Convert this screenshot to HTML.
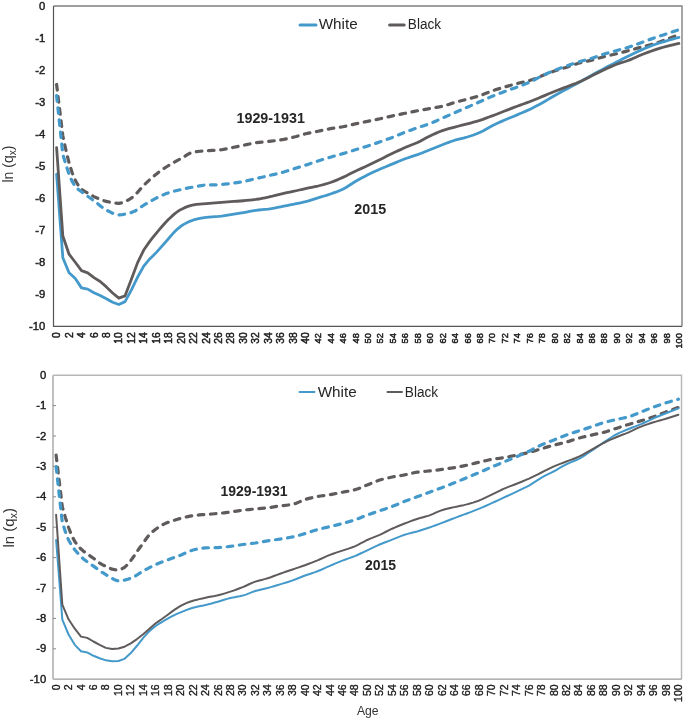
<!DOCTYPE html>
<html><head><meta charset="utf-8"><title>ln(qx) by age</title>
<style>html,body{margin:0;padding:0;background:#fff;}svg{display:block;}</style>
</head><body>
<svg width="685" height="720" viewBox="0 0 685 720">
<rect width="685" height="720" fill="#fff"/>
<g fill="none" stroke-linecap="butt">
<path d="M53.5 6.0 H682.0 V326.3" stroke="#808080" stroke-width="1.4"/>
<path d="M53.5 6.0 V326.3 H682.0" stroke="#555" stroke-width="1.2"/>
</g>
<g fill="none">
<path d="M53.0 375.2 H681.5 V679.2" stroke="#b5b5b5" stroke-width="1.4"/>
<path d="M681.5 679.2 H53.0" stroke="#9a9a9a" stroke-width="1.3"/>
<path d="M53.0 375.2 V679.2" stroke="#c0c0c0" stroke-width="2"/>
<path d="M53.0 405.60 h3 M53.0 436.00 h3 M53.0 466.40 h3 M53.0 496.80 h3 M53.0 527.20 h3 M53.0 557.60 h3 M53.0 588.00 h3 M53.0 618.40 h3 M53.0 648.80 h3 " stroke="#8a8a8a" stroke-width="1"/>
</g>
<g fill="none" stroke-linecap="round" stroke-linejoin="round">
<path d="M56.61 84.47 L62.83 136.04 L65.95 150.23 L69.06 162.95 L72.17 172.75 L75.28 180.24 L78.39 185.53 L81.50 189.21 L84.61 191.35 L87.73 193.06 L90.84 194.91 L93.95 196.58 L97.06 198.02 L100.17 199.37 L103.28 200.52 L106.39 201.38 L109.50 202.07 L112.62 202.69 L115.73 203.13 L118.84 203.30 L121.95 202.85 L125.06 201.66 L128.17 200.01 L131.28 198.18 L134.40 195.71 L137.51 192.35 L140.62 188.71 L143.73 185.37 L146.84 182.39 L149.95 179.49 L153.06 176.72 L156.18 174.16 L159.29 171.80 L162.40 169.58 L165.51 167.50 L168.62 165.51 L171.73 163.63 L174.84 161.85 L177.96 160.14 L181.07 158.46 L184.18 156.62 L187.29 154.69 L190.40 153.04 L193.51 152.06 L196.62 151.60 L199.74 151.26 L202.85 151.00 L205.96 150.78 L209.07 150.60 L212.18 150.47 L215.29 150.34 L218.40 150.14 L221.51 149.76 L224.63 149.19 L227.74 148.53 L230.85 147.89 L233.96 147.28 L237.07 146.63 L240.18 145.98 L243.29 145.33 L246.41 144.65 L249.52 143.94 L252.63 143.29 L255.74 142.77 L258.85 142.39 L261.96 142.09 L265.07 141.81 L268.19 141.49 L271.30 141.13 L274.41 140.75 L277.52 140.35 L280.63 139.89 L283.74 139.35 L286.85 138.73 L289.97 138.05 L293.08 137.32 L296.19 136.49 L299.30 135.56 L302.41 134.63 L305.52 133.80 L308.63 133.10 L311.75 132.47 L314.86 131.86 L317.97 131.24 L321.08 130.58 L324.19 129.91 L327.30 129.26 L330.41 128.67 L333.52 128.17 L336.64 127.73 L339.75 127.27 L342.86 126.75 L345.97 126.11 L349.08 125.36 L352.19 124.59 L355.30 123.87 L358.42 123.21 L361.53 122.57 L364.64 121.94 L367.75 121.31 L370.86 120.67 L373.97 120.05 L377.08 119.41 L380.20 118.75 L383.31 118.04 L386.42 117.30 L389.53 116.57 L392.64 115.86 L395.75 115.20 L398.86 114.56 L401.98 113.93 L405.09 113.30 L408.20 112.65 L411.31 112.00 L414.42 111.35 L417.53 110.74 L420.64 110.16 L423.75 109.60 L426.87 109.05 L429.98 108.50 L433.09 107.96 L436.20 107.45 L439.31 106.90 L442.42 106.25 L445.53 105.42 L448.65 104.41 L451.76 103.37 L454.87 102.41 L457.98 101.58 L461.09 100.79 L464.20 100.02 L467.31 99.21 L470.43 98.38 L473.54 97.53 L476.65 96.65 L479.76 95.68 L482.87 94.56 L485.98 93.31 L489.09 92.04 L492.21 90.88 L495.32 89.85 L498.43 88.88 L501.54 87.95 L504.65 87.04 L507.76 86.12 L510.87 85.21 L513.99 84.34 L517.10 83.51 L520.21 82.79 L523.32 82.13 L526.43 81.44 L529.54 80.63 L532.65 79.60 L535.76 78.38 L538.88 77.08 L541.99 75.83 L545.10 74.60 L548.21 73.36 L551.32 72.15 L554.43 71.02 L557.54 70.01 L560.66 69.06 L563.77 68.14 L566.88 67.18 L569.99 66.12 L573.10 65.02 L576.21 63.96 L579.32 63.01 L582.44 62.23 L585.55 61.54 L588.66 60.87 L591.77 60.13 L594.88 59.28 L597.99 58.37 L601.10 57.46 L604.22 56.61 L607.33 55.85 L610.44 55.15 L613.55 54.45 L616.66 53.72 L619.77 52.95 L622.88 52.16 L626.00 51.35 L629.11 50.52 L632.22 49.66 L635.33 48.76 L638.44 47.86 L641.55 47.00 L644.66 46.20 L647.77 45.44 L650.89 44.66 L654.00 43.80 L657.11 42.79 L660.22 41.67 L663.33 40.49 L666.44 39.31 L669.55 38.13 L672.67 36.93 L675.78 35.72 L678.89 34.51" stroke="#5f5b5a" stroke-width="3.2" stroke-dasharray="5.6 6.6" />
<path d="M56.61 95.68 L62.83 154.30 L65.95 164.79 L69.06 174.16 L72.17 181.41 L75.28 186.65 L78.39 189.52 L81.50 191.77 L84.61 194.05 L87.73 196.26 L90.84 198.49 L93.95 200.74 L97.06 203.18 L100.17 205.73 L103.28 208.12 L106.39 210.03 L109.50 211.67 L112.62 213.23 L115.73 214.38 L118.84 214.84 L121.95 214.65 L125.06 214.14 L128.17 213.43 L131.28 212.59 L134.40 211.30 L137.51 209.38 L140.62 207.23 L143.73 205.23 L146.84 203.40 L149.95 201.57 L153.06 199.81 L156.18 198.18 L159.29 196.65 L162.40 195.19 L165.51 193.86 L168.62 192.73 L171.73 191.80 L174.84 190.99 L177.96 190.24 L181.07 189.53 L184.18 188.83 L187.29 188.17 L190.40 187.55 L193.51 186.97 L196.62 186.39 L199.74 185.80 L202.85 185.32 L205.96 185.05 L209.07 184.94 L212.18 184.88 L215.29 184.82 L218.40 184.73 L221.51 184.53 L224.63 184.21 L227.74 183.84 L230.85 183.45 L233.96 183.04 L237.07 182.58 L240.18 182.08 L243.29 181.52 L246.41 180.88 L249.52 180.16 L252.63 179.39 L255.74 178.64 L258.85 177.92 L261.96 177.20 L265.07 176.48 L268.19 175.76 L271.30 175.06 L274.41 174.37 L277.52 173.65 L280.63 172.88 L283.74 171.99 L286.85 171.02 L289.97 170.02 L293.08 169.03 L296.19 168.08 L299.30 167.13 L302.41 166.17 L305.52 165.19 L308.63 164.16 L311.75 163.11 L314.86 162.05 L317.97 161.03 L321.08 160.03 L324.19 159.06 L327.30 158.11 L330.41 157.18 L333.52 156.29 L336.64 155.42 L339.75 154.55 L342.86 153.66 L345.97 152.72 L349.08 151.76 L352.19 150.78 L355.30 149.81 L358.42 148.86 L361.53 147.91 L364.64 146.95 L367.75 145.97 L370.86 144.96 L373.97 143.93 L377.08 142.88 L380.20 141.81 L383.31 140.72 L386.42 139.62 L389.53 138.49 L392.64 137.32 L395.75 136.07 L398.86 134.76 L401.98 133.45 L405.09 132.20 L408.20 131.03 L411.31 129.90 L414.42 128.80 L417.53 127.71 L420.64 126.68 L423.75 125.68 L426.87 124.66 L429.98 123.55 L433.09 122.29 L436.20 120.92 L439.31 119.50 L442.42 118.10 L445.53 116.74 L448.65 115.38 L451.76 114.02 L454.87 112.66 L457.98 111.30 L461.09 109.94 L464.20 108.58 L467.31 107.21 L470.43 105.85 L473.54 104.49 L476.65 103.13 L479.76 101.77 L482.87 100.39 L485.98 99.00 L489.09 97.64 L492.21 96.32 L495.32 95.07 L498.43 93.86 L501.54 92.68 L504.65 91.52 L507.76 90.38 L510.87 89.28 L513.99 88.17 L517.10 87.04 L520.21 85.89 L523.32 84.74 L526.43 83.54 L529.54 82.23 L532.65 80.73 L535.76 79.08 L538.88 77.40 L541.99 75.83 L545.10 74.38 L548.21 72.98 L551.32 71.65 L554.43 70.38 L557.54 69.19 L560.66 68.06 L563.77 66.97 L566.88 65.90 L569.99 64.82 L573.10 63.75 L576.21 62.72 L579.32 61.73 L582.44 60.82 L585.55 59.97 L588.66 59.12 L591.77 58.21 L594.88 57.20 L597.99 56.13 L601.10 55.05 L604.22 54.05 L607.33 53.12 L610.44 52.25 L613.55 51.39 L616.66 50.52 L619.77 49.66 L622.88 48.81 L626.00 47.94 L629.11 47.00 L632.22 45.95 L635.33 44.82 L638.44 43.66 L641.55 42.51 L644.66 41.39 L647.77 40.25 L650.89 39.13 L654.00 38.03 L657.11 36.97 L660.22 35.93 L663.33 34.90 L666.44 33.87 L669.55 32.83 L672.67 31.78 L675.78 30.74 L678.89 29.70" stroke="#4499cb" stroke-width="3.2" stroke-dasharray="5.6 6.6" />
<path d="M56.61 174.16 L62.83 257.76 L69.06 272.81 L75.28 278.58 L81.50 287.86 L87.73 289.15 L93.95 292.67 L100.17 295.55 L106.39 298.75 L112.62 302.28 L118.84 304.52 L125.06 301.64 L131.28 290.11 L137.51 277.29 L143.73 266.08 L149.95 258.72 L153.06 255.73 L156.18 252.63 L159.29 249.17 L162.40 245.58 L165.51 242.06 L168.62 238.54 L171.73 234.90 L174.84 231.49 L177.96 228.54 L181.07 226.05 L184.18 224.12 L187.29 222.52 L190.40 221.09 L193.51 219.96 L196.62 219.13 L199.74 218.41 L202.85 217.83 L205.96 217.40 L209.07 217.11 L212.18 216.90 L215.29 216.70 L218.40 216.44 L221.51 216.05 L224.63 215.56 L227.74 215.03 L230.85 214.52 L233.96 214.04 L237.07 213.57 L240.18 213.09 L243.29 212.59 L246.41 212.03 L249.52 211.42 L252.63 210.83 L255.74 210.35 L258.85 210.00 L261.96 209.71 L265.07 209.42 L268.19 209.07 L271.30 208.60 L274.41 208.04 L277.52 207.44 L280.63 206.83 L283.74 206.21 L286.85 205.57 L289.97 204.91 L293.08 204.27 L296.19 203.65 L299.30 203.05 L302.41 202.42 L305.52 201.70 L308.63 200.85 L311.75 199.88 L314.86 198.86 L317.97 197.86 L321.08 196.92 L324.19 195.99 L327.30 195.04 L330.41 194.02 L333.52 192.94 L336.64 191.82 L339.75 190.59 L342.86 189.21 L345.97 187.52 L349.08 185.53 L352.19 183.46 L355.30 181.52 L358.42 179.76 L361.53 178.04 L364.64 176.39 L367.75 174.80 L370.86 173.28 L373.97 171.82 L377.08 170.41 L380.20 169.03 L383.31 167.71 L386.42 166.43 L389.53 165.17 L392.64 163.91 L395.75 162.60 L398.86 161.28 L401.98 159.99 L405.09 158.78 L408.20 157.70 L411.31 156.68 L414.42 155.68 L417.53 154.62 L420.64 153.47 L423.75 152.28 L426.87 151.05 L429.98 149.81 L433.09 148.54 L436.20 147.23 L439.31 145.93 L442.42 144.69 L445.53 143.49 L448.65 142.32 L451.76 141.21 L454.87 140.21 L457.98 139.35 L461.09 138.60 L464.20 137.85 L467.31 137.00 L470.43 136.03 L473.54 134.97 L476.65 133.80 L479.76 132.52 L482.87 131.00 L485.98 129.26 L489.09 127.46 L492.21 125.79 L495.32 124.27 L498.43 122.81 L501.54 121.40 L504.65 120.03 L507.76 118.71 L510.87 117.45 L513.99 116.19 L517.10 114.90 L520.21 113.58 L523.32 112.26 L526.43 110.89 L529.54 109.46 L532.65 107.95 L535.76 106.37 L538.88 104.74 L541.99 103.05 L545.10 101.27 L548.21 99.39 L551.32 97.50 L554.43 95.68 L557.54 93.96 L560.66 92.28 L563.77 90.62 L566.88 88.96 L569.99 87.28 L573.10 85.61 L576.21 83.93 L579.32 82.23 L582.44 80.49 L585.55 78.71 L588.66 76.93 L591.77 75.18 L594.88 73.47 L597.99 71.78 L601.10 70.11 L604.22 68.46 L607.33 66.84 L610.44 65.24 L613.55 63.65 L616.66 62.05 L619.77 60.44 L622.88 58.81 L626.00 57.20 L629.11 55.65 L632.22 54.15 L635.33 52.68 L638.44 51.26 L641.55 49.88 L644.66 48.52 L647.77 47.19 L650.89 45.92 L654.00 44.76 L657.11 43.71 L660.22 42.74 L663.33 41.82 L666.44 40.91 L669.55 40.01 L672.67 39.13 L675.78 38.26 L678.89 37.39" stroke="#4499cb" stroke-width="2.8" />
<path d="M56.61 147.57 L62.83 235.98 L69.06 254.23 L75.28 262.24 L81.50 270.57 L87.73 272.81 L93.95 277.61 L100.17 281.46 L106.39 286.90 L112.62 292.99 L118.84 298.11 L125.06 295.87 L131.28 279.54 L137.51 262.88 L143.73 250.07 L149.95 241.10 L153.06 237.22 L156.18 233.41 L159.29 229.68 L162.40 225.98 L165.51 222.47 L168.62 219.32 L171.73 216.42 L174.84 213.67 L177.96 211.26 L181.07 209.39 L184.18 207.91 L187.29 206.63 L190.40 205.60 L193.51 204.91 L196.62 204.48 L199.74 204.15 L202.85 203.89 L205.96 203.63 L209.07 203.37 L212.18 203.13 L215.29 202.90 L218.40 202.66 L221.51 202.42 L224.63 202.18 L227.74 201.94 L230.85 201.70 L233.96 201.47 L237.07 201.24 L240.18 201.00 L243.29 200.74 L246.41 200.46 L249.52 200.17 L252.63 199.84 L255.74 199.46 L258.85 199.01 L261.96 198.47 L265.07 197.86 L268.19 197.22 L271.30 196.48 L274.41 195.64 L277.52 194.79 L280.63 194.02 L283.74 193.34 L286.85 192.72 L289.97 192.10 L293.08 191.45 L296.19 190.75 L299.30 190.01 L302.41 189.28 L305.52 188.57 L308.63 187.93 L311.75 187.32 L314.86 186.70 L317.97 186.01 L321.08 185.24 L324.19 184.40 L327.30 183.48 L330.41 182.49 L333.52 181.36 L336.64 180.10 L339.75 178.75 L342.86 177.36 L345.97 175.90 L349.08 174.36 L352.19 172.80 L355.30 171.27 L358.42 169.82 L361.53 168.39 L364.64 166.97 L367.75 165.51 L370.86 164.01 L373.97 162.49 L377.08 160.95 L380.20 159.42 L383.31 157.89 L386.42 156.36 L389.53 154.84 L392.64 153.34 L395.75 151.86 L398.86 150.39 L401.98 148.96 L405.09 147.57 L408.20 146.28 L411.31 145.04 L414.42 143.79 L417.53 142.45 L420.64 140.92 L423.75 139.27 L426.87 137.60 L429.98 136.04 L433.09 134.56 L436.20 133.12 L439.31 131.77 L442.42 130.60 L445.53 129.60 L448.65 128.72 L451.76 127.90 L454.87 127.07 L457.98 126.26 L461.09 125.47 L464.20 124.69 L467.31 123.87 L470.43 123.03 L473.54 122.18 L476.65 121.30 L479.76 120.35 L482.87 119.31 L485.98 118.19 L489.09 117.03 L492.21 115.86 L495.32 114.69 L498.43 113.48 L501.54 112.27 L504.65 111.06 L507.76 109.85 L510.87 108.64 L513.99 107.43 L517.10 106.25 L520.21 105.13 L523.32 104.03 L526.43 102.93 L529.54 101.77 L532.65 100.54 L535.76 99.25 L538.88 97.94 L541.99 96.64 L545.10 95.36 L548.21 94.06 L551.32 92.78 L554.43 91.52 L557.54 90.30 L560.66 89.10 L563.77 87.91 L566.88 86.72 L569.99 85.54 L573.10 84.38 L576.21 83.19 L579.32 81.91 L582.44 80.49 L585.55 78.96 L588.66 77.38 L591.77 75.83 L594.88 74.29 L597.99 72.74 L601.10 71.21 L604.22 69.74 L607.33 68.30 L610.44 66.89 L613.55 65.54 L616.66 64.29 L619.77 63.20 L622.88 62.21 L626.00 61.22 L629.11 60.13 L632.22 58.85 L635.33 57.43 L638.44 56.01 L641.55 54.69 L644.66 53.49 L647.77 52.35 L650.89 51.25 L654.00 50.20 L657.11 49.17 L660.22 48.17 L663.33 47.23 L666.44 46.36 L669.55 45.58 L672.67 44.86 L675.78 44.18 L678.89 43.48" stroke="#5f5b5a" stroke-width="2.8" />
<path d="M56.11 455.15 L62.33 506.83 L65.45 517.67 L68.56 527.50 L71.67 535.35 L74.78 541.49 L77.89 545.78 L81.00 549.09 L84.11 551.69 L87.23 553.95 L90.34 556.08 L93.45 558.21 L96.56 560.71 L99.67 563.07 L102.78 564.86 L105.89 566.42 L109.00 567.99 L112.12 569.15 L115.23 569.78 L118.34 570.06 L121.45 569.18 L124.56 567.33 L127.67 564.46 L130.78 560.64 L133.90 556.22 L137.01 551.52 L140.12 547.23 L143.23 543.01 L146.34 538.49 L149.45 534.50 L152.56 531.69 L155.68 529.33 L158.79 527.03 L161.90 525.07 L165.01 523.59 L168.12 522.34 L171.23 521.22 L174.34 520.21 L177.46 519.25 L180.57 518.38 L183.68 517.59 L186.79 516.83 L189.90 516.16 L193.01 515.65 L196.12 515.27 L199.24 514.96 L202.35 514.69 L205.46 514.43 L208.57 514.20 L211.68 513.99 L214.79 513.77 L217.90 513.52 L221.01 513.20 L224.13 512.82 L227.24 512.42 L230.35 512.00 L233.46 511.55 L236.57 511.06 L239.68 510.59 L242.79 510.18 L245.91 509.84 L249.02 509.54 L252.13 509.25 L255.24 508.96 L258.35 508.67 L261.46 508.38 L264.57 508.08 L267.69 507.74 L270.80 507.33 L273.91 506.86 L277.02 506.37 L280.13 505.92 L283.24 505.56 L286.35 505.24 L289.47 504.89 L292.58 504.40 L295.69 503.49 L298.80 502.15 L301.91 500.71 L305.02 499.54 L308.13 498.64 L311.25 497.83 L314.36 497.12 L317.47 496.50 L320.58 495.99 L323.69 495.56 L326.80 495.14 L329.91 494.67 L333.02 494.11 L336.14 493.50 L339.25 492.86 L342.36 492.24 L345.47 491.67 L348.58 491.13 L351.69 490.53 L354.80 489.81 L357.92 488.82 L361.03 487.58 L364.14 486.24 L367.25 484.94 L370.36 483.68 L373.47 482.37 L376.58 481.14 L379.70 480.08 L382.81 479.20 L385.92 478.41 L389.03 477.69 L392.14 477.04 L395.25 476.47 L398.36 475.96 L401.48 475.46 L404.59 474.91 L407.70 474.23 L410.81 473.46 L413.92 472.73 L417.03 472.18 L420.14 471.81 L423.25 471.53 L426.37 471.26 L429.48 470.96 L432.59 470.61 L435.70 470.24 L438.81 469.85 L441.92 469.44 L445.03 469.02 L448.15 468.58 L451.26 468.12 L454.37 467.62 L457.48 467.07 L460.59 466.48 L463.70 465.85 L466.81 465.18 L469.93 464.46 L473.04 463.69 L476.15 462.90 L479.26 462.14 L482.37 461.41 L485.48 460.69 L488.59 460.01 L491.71 459.41 L494.82 458.91 L497.93 458.48 L501.04 458.06 L504.15 457.58 L507.26 457.03 L510.37 456.43 L513.49 455.80 L516.60 455.15 L519.71 454.51 L522.82 453.85 L525.93 453.16 L529.04 452.42 L532.15 451.58 L535.26 450.66 L538.38 449.70 L541.49 448.77 L544.60 447.84 L547.71 446.90 L550.82 445.99 L553.93 445.12 L557.04 444.34 L560.16 443.62 L563.27 442.88 L566.38 442.08 L569.49 441.14 L572.60 440.10 L575.71 439.07 L578.82 438.13 L581.94 437.30 L585.05 436.54 L588.16 435.81 L591.27 435.09 L594.38 434.41 L597.49 433.76 L600.60 433.10 L603.72 432.35 L606.83 431.47 L609.94 430.47 L613.05 429.42 L616.16 428.40 L619.27 427.40 L622.38 426.40 L625.50 425.41 L628.61 424.45 L631.72 423.52 L634.83 422.62 L637.94 421.73 L641.05 420.80 L644.16 419.85 L647.27 418.89 L650.39 417.90 L653.50 416.85 L656.61 415.70 L659.72 414.46 L662.83 413.20 L665.94 411.98 L669.05 410.82 L672.17 409.69 L675.28 408.56 L678.39 407.42" stroke="#5f5b5a" stroke-width="3.2" stroke-dasharray="5.6 6.6" />
<path d="M56.11 466.70 L62.33 522.64 L65.45 531.91 L68.56 539.97 L71.67 545.37 L74.78 549.70 L77.89 553.47 L81.00 556.69 L84.11 559.43 L87.23 561.86 L90.34 564.02 L93.45 566.11 L96.56 568.41 L99.67 570.67 L102.78 572.70 L105.89 574.62 L109.00 576.53 L112.12 578.27 L115.23 580.03 L118.34 581.01 L121.45 580.77 L124.56 580.14 L127.67 579.26 L130.78 578.27 L133.90 576.89 L137.01 574.98 L140.12 572.89 L143.23 570.98 L146.34 569.28 L149.45 567.62 L152.56 566.05 L155.68 564.59 L158.79 563.28 L161.90 562.06 L165.01 560.89 L168.12 559.73 L171.23 558.58 L174.34 557.47 L177.46 556.34 L180.57 555.17 L183.68 553.82 L186.79 552.36 L189.90 551.00 L193.01 550.00 L196.12 549.27 L199.24 548.63 L202.35 548.14 L205.46 547.87 L208.57 547.77 L211.68 547.71 L214.79 547.66 L217.90 547.57 L221.01 547.38 L224.13 547.08 L227.24 546.72 L230.35 546.35 L233.46 545.94 L236.57 545.46 L239.68 544.98 L242.79 544.53 L245.91 544.14 L249.02 543.78 L252.13 543.42 L255.24 543.01 L258.35 542.52 L261.46 541.97 L264.57 541.41 L267.69 540.88 L270.80 540.41 L273.91 539.97 L277.02 539.53 L280.13 539.06 L283.24 538.57 L286.35 538.07 L289.47 537.53 L292.58 536.93 L295.69 536.21 L298.80 535.38 L301.91 534.49 L305.02 533.58 L308.13 532.62 L311.25 531.58 L314.36 530.56 L317.47 529.63 L320.58 528.82 L323.69 528.06 L326.80 527.33 L329.91 526.59 L333.02 525.84 L336.14 525.11 L339.25 524.35 L342.36 523.55 L345.47 522.71 L348.58 521.83 L351.69 520.90 L354.80 519.90 L357.92 518.77 L361.03 517.52 L364.14 516.24 L367.25 515.04 L370.36 513.94 L373.47 512.88 L376.58 511.83 L379.70 510.78 L382.81 509.74 L385.92 508.71 L389.03 507.65 L392.14 506.53 L395.25 505.29 L398.36 503.97 L401.48 502.63 L404.59 501.36 L407.70 500.18 L410.81 499.04 L413.92 497.93 L417.03 496.80 L420.14 495.66 L423.25 494.52 L426.37 493.38 L429.48 492.24 L432.59 491.11 L435.70 489.98 L438.81 488.84 L441.92 487.68 L445.03 486.49 L448.15 485.29 L451.26 484.06 L454.37 482.82 L457.48 481.55 L460.59 480.25 L463.70 478.95 L466.81 477.65 L469.93 476.36 L473.04 475.08 L476.15 473.79 L479.26 472.48 L482.37 471.13 L485.48 469.74 L488.59 468.36 L491.71 467.01 L494.82 465.70 L497.93 464.41 L501.04 463.13 L504.15 461.84 L507.26 460.55 L510.37 459.27 L513.49 457.98 L516.60 456.67 L519.71 455.35 L522.82 454.01 L525.93 452.63 L529.04 451.20 L532.15 449.63 L535.26 447.96 L538.38 446.31 L541.49 444.82 L544.60 443.51 L547.71 442.30 L550.82 441.14 L553.93 439.95 L557.04 438.72 L560.16 437.48 L563.27 436.26 L566.38 435.09 L569.49 433.98 L572.60 432.90 L575.71 431.86 L578.82 430.83 L581.94 429.83 L585.05 428.86 L588.16 427.88 L591.27 426.88 L594.38 425.80 L597.49 424.68 L600.60 423.60 L603.72 422.62 L606.83 421.79 L609.94 421.02 L613.05 420.30 L616.16 419.58 L619.27 418.92 L622.38 418.29 L625.50 417.63 L628.61 416.85 L631.72 415.82 L634.83 414.59 L637.94 413.26 L641.05 411.98 L644.16 410.75 L647.27 409.51 L650.39 408.29 L653.50 407.12 L656.61 406.00 L659.72 404.92 L662.83 403.87 L665.94 402.86 L669.05 401.91 L672.17 401.00 L675.28 400.11 L678.39 399.22" stroke="#4499cb" stroke-width="3.2" stroke-dasharray="5.6 6.6" />
<path d="M56.11 539.97 L62.33 619.62 L68.56 634.51 L74.78 644.85 L81.00 651.23 L87.23 652.45 L93.45 655.79 L99.67 658.22 L105.89 660.35 L112.12 661.26 L118.34 660.96 L124.56 658.83 L130.78 653.06 L137.01 645.76 L143.23 637.86 L149.45 631.17 L152.56 628.50 L155.68 626.00 L158.79 623.94 L161.90 622.05 L165.01 620.19 L168.12 618.40 L171.23 616.67 L174.34 615.06 L177.46 613.63 L180.57 612.32 L183.68 611.07 L186.79 609.89 L189.90 608.75 L193.01 607.76 L196.12 606.99 L199.24 606.34 L202.35 605.71 L205.46 605.02 L208.57 604.24 L211.68 603.41 L214.79 602.55 L217.90 601.68 L221.01 600.76 L224.13 599.78 L227.24 598.85 L230.35 598.03 L233.46 597.39 L236.57 596.85 L239.68 596.29 L242.79 595.60 L245.91 594.61 L249.02 593.38 L252.13 592.12 L255.24 591.04 L258.35 590.21 L261.46 589.48 L264.57 588.77 L267.69 588.00 L270.80 587.14 L273.91 586.24 L277.02 585.30 L280.13 584.35 L283.24 583.41 L286.35 582.45 L289.47 581.45 L292.58 580.40 L295.69 579.24 L298.80 577.99 L301.91 576.73 L305.02 575.54 L308.13 574.46 L311.25 573.44 L314.36 572.41 L317.47 571.28 L320.58 570.00 L323.69 568.61 L326.80 567.19 L329.91 565.81 L333.02 564.48 L336.14 563.17 L339.25 561.88 L342.36 560.64 L345.47 559.49 L348.58 558.39 L351.69 557.28 L354.80 556.08 L357.92 554.73 L361.03 553.28 L364.14 551.78 L367.25 550.30 L370.36 548.84 L373.47 547.35 L376.58 545.90 L379.70 544.53 L382.81 543.25 L385.92 542.04 L389.03 540.86 L392.14 539.66 L395.25 538.41 L398.36 537.12 L401.48 535.89 L404.59 534.80 L407.70 533.89 L410.81 533.09 L413.92 532.30 L417.03 531.46 L420.14 530.53 L423.25 529.56 L426.37 528.55 L429.48 527.50 L432.59 526.42 L435.70 525.28 L438.81 524.12 L441.92 522.94 L445.03 521.74 L448.15 520.51 L451.26 519.28 L454.37 518.08 L457.48 516.93 L460.59 515.80 L463.70 514.67 L466.81 513.52 L469.93 512.34 L473.04 511.14 L476.15 509.92 L479.26 508.66 L482.37 507.34 L485.48 505.98 L488.59 504.59 L491.71 503.18 L494.82 501.76 L497.93 500.32 L501.04 498.86 L504.15 497.41 L507.26 495.97 L510.37 494.54 L513.49 493.10 L516.60 491.63 L519.71 490.17 L522.82 488.71 L525.93 487.19 L529.04 485.55 L532.15 483.68 L535.26 481.62 L538.38 479.55 L541.49 477.65 L544.60 475.97 L547.71 474.41 L550.82 472.87 L553.93 471.26 L557.04 469.52 L560.16 467.70 L563.27 465.91 L566.38 464.27 L569.49 462.86 L572.60 461.58 L575.71 460.28 L578.82 458.80 L581.94 457.04 L585.05 455.06 L588.16 452.98 L591.27 450.90 L594.38 448.80 L597.49 446.64 L600.60 444.48 L603.72 442.38 L606.83 440.30 L609.94 438.22 L613.05 436.24 L616.16 434.48 L619.27 432.96 L622.38 431.58 L625.50 430.28 L628.61 429.01 L631.72 427.77 L634.83 426.59 L637.94 425.41 L641.05 424.14 L644.16 422.75 L647.27 421.28 L650.39 419.79 L653.50 418.37 L656.61 417.03 L659.72 415.73 L662.83 414.46 L665.94 413.20 L669.05 411.96 L672.17 410.75 L675.28 409.55 L678.39 408.34" stroke="#4499cb" stroke-width="2.0" />
<path d="M56.11 514.74 L62.33 604.72 L68.56 619.31 L74.78 628.74 L81.00 636.64 L87.23 637.86 L93.45 641.50 L99.67 644.85 L105.89 647.89 L112.12 649.10 L118.34 648.50 L124.56 646.67 L130.78 643.33 L137.01 639.07 L143.23 634.21 L149.45 628.74 L152.56 625.91 L155.68 623.26 L158.79 621.09 L161.90 619.01 L165.01 616.75 L168.12 614.45 L171.23 612.13 L174.34 609.89 L177.46 607.81 L180.57 605.94 L183.68 604.30 L186.79 602.90 L189.90 601.74 L193.01 600.77 L196.12 599.91 L199.24 599.13 L202.35 598.41 L205.46 597.73 L208.57 597.10 L211.68 596.54 L214.79 595.96 L217.90 595.30 L221.01 594.51 L224.13 593.61 L227.24 592.65 L230.35 591.65 L233.46 590.60 L236.57 589.48 L239.68 588.31 L242.79 587.09 L245.91 585.73 L249.02 584.25 L252.13 582.82 L255.24 581.62 L258.35 580.69 L261.46 579.91 L264.57 579.14 L267.69 578.27 L270.80 577.22 L273.91 576.06 L277.02 574.86 L280.13 573.71 L283.24 572.63 L286.35 571.57 L289.47 570.51 L292.58 569.46 L295.69 568.41 L298.80 567.36 L301.91 566.30 L305.02 565.20 L308.13 564.04 L311.25 562.84 L314.36 561.61 L317.47 560.34 L320.58 558.98 L323.69 557.55 L326.80 556.15 L329.91 554.86 L333.02 553.73 L336.14 552.67 L339.25 551.65 L342.36 550.61 L345.47 549.58 L348.58 548.59 L351.69 547.54 L354.80 546.35 L357.92 544.90 L361.03 543.24 L364.14 541.53 L367.25 539.97 L370.36 538.62 L373.47 537.37 L376.58 536.13 L379.70 534.80 L382.81 533.33 L385.92 531.76 L389.03 530.19 L392.14 528.72 L395.25 527.35 L398.36 526.04 L401.48 524.78 L404.59 523.55 L407.70 522.35 L410.81 521.17 L413.92 520.05 L417.03 518.99 L420.14 518.05 L423.25 517.20 L426.37 516.33 L429.48 515.34 L432.59 514.11 L435.70 512.70 L438.81 511.32 L441.92 510.18 L445.03 509.30 L448.15 508.54 L451.26 507.84 L454.37 507.14 L457.48 506.46 L460.59 505.81 L463.70 505.15 L466.81 504.40 L469.93 503.55 L473.04 502.61 L476.15 501.57 L479.26 500.45 L482.37 499.16 L485.48 497.71 L488.59 496.19 L491.71 494.67 L494.82 493.14 L497.93 491.57 L501.04 490.02 L504.15 488.59 L507.26 487.31 L510.37 486.11 L513.49 484.94 L516.60 483.73 L519.71 482.48 L522.82 481.22 L525.93 479.92 L529.04 478.56 L532.15 477.11 L535.26 475.58 L538.38 474.02 L541.49 472.48 L544.60 470.93 L547.71 469.36 L550.82 467.83 L553.93 466.40 L557.04 465.11 L560.16 463.90 L563.27 462.73 L566.38 461.54 L569.49 460.36 L572.60 459.20 L575.71 458.00 L578.82 456.67 L581.94 455.16 L585.05 453.48 L588.16 451.73 L591.27 449.98 L594.38 448.23 L597.49 446.42 L600.60 444.65 L603.72 442.99 L606.83 441.45 L609.94 439.97 L613.05 438.56 L616.16 437.22 L619.27 435.96 L622.38 434.78 L625.50 433.61 L628.61 432.35 L631.72 430.94 L634.83 429.42 L637.94 427.92 L641.05 426.58 L644.16 425.41 L647.27 424.33 L650.39 423.31 L653.50 422.32 L656.61 421.38 L659.72 420.48 L662.83 419.59 L665.94 418.67 L669.05 417.71 L672.17 416.72 L675.28 415.72 L678.39 414.72" stroke="#5f5b5a" stroke-width="2.0" />
</g>
<g font-family="'Liberation Sans', Arial, sans-serif" font-size="11.3" fill="#222" stroke="#222" stroke-width="0.45" text-anchor="end">
<text x="45.4" y="9.80">0</text>
<text x="45.4" y="41.83">-1</text>
<text x="45.4" y="73.86">-2</text>
<text x="45.4" y="105.89">-3</text>
<text x="45.4" y="137.92">-4</text>
<text x="45.4" y="169.95">-5</text>
<text x="45.4" y="201.98">-6</text>
<text x="45.4" y="234.01">-7</text>
<text x="45.4" y="266.04">-8</text>
<text x="45.4" y="298.07">-9</text>
<text x="45.4" y="330.10">-10</text>
</g>
<g font-family="'Liberation Sans', Arial, sans-serif" font-size="11.3" fill="#1a1a1a" stroke="#1a1a1a" stroke-width="0.4" text-anchor="end">
<text x="46.2" y="378.80">0</text>
<text x="46.2" y="409.20">-1</text>
<text x="46.2" y="439.60">-2</text>
<text x="46.2" y="470.00">-3</text>
<text x="46.2" y="500.40">-4</text>
<text x="46.2" y="530.80">-5</text>
<text x="46.2" y="561.20">-6</text>
<text x="46.2" y="591.60">-7</text>
<text x="46.2" y="622.00">-8</text>
<text x="46.2" y="652.40">-9</text>
<text x="46.2" y="682.80">-10</text>
</g>
<g font-family="'Liberation Sans', Arial, sans-serif" font-size="10.3" fill="#1e1e1e" stroke="#1e1e1e" stroke-width="0.5" text-anchor="end">
<text transform="translate(60.21 332.3) rotate(-90)">0</text>
<text transform="translate(72.66 332.3) rotate(-90)">2</text>
<text transform="translate(85.10 332.3) rotate(-90)">4</text>
<text transform="translate(97.55 332.3) rotate(-90)">6</text>
<text transform="translate(109.99 332.3) rotate(-90)">8</text>
<text transform="translate(122.44 332.3) rotate(-90)">10</text>
<text transform="translate(134.88 332.3) rotate(-90)">12</text>
<text transform="translate(147.33 332.3) rotate(-90)">14</text>
<text transform="translate(159.78 332.3) rotate(-90)">16</text>
<text transform="translate(172.22 332.3) rotate(-90)">18</text>
<text transform="translate(184.67 332.3) rotate(-90)">20</text>
<text transform="translate(197.11 332.3) rotate(-90)">22</text>
<text transform="translate(209.56 332.3) rotate(-90)">24</text>
<text transform="translate(222.00 332.3) rotate(-90)">26</text>
<text transform="translate(234.45 332.3) rotate(-90)">28</text>
<text transform="translate(246.89 332.3) rotate(-90)">30</text>
<text transform="translate(259.34 332.3) rotate(-90)">32</text>
<text transform="translate(271.79 332.3) rotate(-90)">34</text>
<text transform="translate(284.23 332.3) rotate(-90)">36</text>
<text transform="translate(296.68 332.3) rotate(-90)">38</text>
<text transform="translate(309.12 332.3) rotate(-90)">40</text>
<text font-size="9.2" transform="translate(321.17 333.2) rotate(-90)">42</text>
<text font-size="9.2" transform="translate(333.61 333.2) rotate(-90)">44</text>
<text font-size="9.2" transform="translate(346.06 333.2) rotate(-90)">46</text>
<text font-size="9.2" transform="translate(358.50 333.2) rotate(-90)">48</text>
<text font-size="9.2" transform="translate(370.95 333.2) rotate(-90)">50</text>
<text font-size="9.2" transform="translate(383.40 333.2) rotate(-90)">52</text>
<text font-size="9.2" transform="translate(395.84 333.2) rotate(-90)">54</text>
<text font-size="9.2" transform="translate(408.29 333.2) rotate(-90)">56</text>
<text font-size="9.2" transform="translate(420.73 333.2) rotate(-90)">58</text>
<text font-size="9.2" transform="translate(433.18 333.2) rotate(-90)">60</text>
<text font-size="9.2" transform="translate(445.62 333.2) rotate(-90)">62</text>
<text font-size="9.2" transform="translate(458.07 333.2) rotate(-90)">64</text>
<text font-size="9.2" transform="translate(470.51 333.2) rotate(-90)">66</text>
<text font-size="9.2" transform="translate(482.96 333.2) rotate(-90)">68</text>
<text font-size="9.2" transform="translate(495.41 333.2) rotate(-90)">70</text>
<text font-size="9.2" transform="translate(507.85 333.2) rotate(-90)">72</text>
<text font-size="9.2" transform="translate(520.30 333.2) rotate(-90)">74</text>
<text font-size="9.2" transform="translate(532.74 333.2) rotate(-90)">76</text>
<text font-size="9.2" transform="translate(545.19 333.2) rotate(-90)">78</text>
<text font-size="9.2" transform="translate(557.63 333.2) rotate(-90)">80</text>
<text font-size="9.2" transform="translate(570.08 333.2) rotate(-90)">82</text>
<text font-size="9.2" transform="translate(582.52 333.2) rotate(-90)">84</text>
<text font-size="9.2" transform="translate(594.97 333.2) rotate(-90)">86</text>
<text font-size="9.2" transform="translate(607.42 333.2) rotate(-90)">88</text>
<text font-size="9.2" transform="translate(619.86 333.2) rotate(-90)">90</text>
<text font-size="9.2" transform="translate(632.31 333.2) rotate(-90)">92</text>
<text font-size="9.2" transform="translate(644.75 333.2) rotate(-90)">94</text>
<text font-size="9.2" transform="translate(657.20 333.2) rotate(-90)">96</text>
<text font-size="9.2" transform="translate(669.64 333.2) rotate(-90)">98</text>
<text font-size="9.2" transform="translate(682.09 333.2) rotate(-90)">100</text>
</g>
<g font-family="'Liberation Sans', Arial, sans-serif" font-size="10.5" fill="#1a1a1a" stroke="#1a1a1a" stroke-width="0.35" text-anchor="end">
<text transform="translate(59.71 684.4) rotate(-90)">0</text>
<text transform="translate(72.16 684.4) rotate(-90)">2</text>
<text transform="translate(84.60 684.4) rotate(-90)">4</text>
<text transform="translate(97.05 684.4) rotate(-90)">6</text>
<text transform="translate(109.49 684.4) rotate(-90)">8</text>
<text transform="translate(121.94 684.4) rotate(-90)">10</text>
<text transform="translate(134.38 684.4) rotate(-90)">12</text>
<text transform="translate(146.83 684.4) rotate(-90)">14</text>
<text transform="translate(159.28 684.4) rotate(-90)">16</text>
<text transform="translate(171.72 684.4) rotate(-90)">18</text>
<text transform="translate(184.17 684.4) rotate(-90)">20</text>
<text transform="translate(196.61 684.4) rotate(-90)">22</text>
<text transform="translate(209.06 684.4) rotate(-90)">24</text>
<text transform="translate(221.50 684.4) rotate(-90)">26</text>
<text transform="translate(233.95 684.4) rotate(-90)">28</text>
<text transform="translate(246.39 684.4) rotate(-90)">30</text>
<text transform="translate(258.84 684.4) rotate(-90)">32</text>
<text transform="translate(271.29 684.4) rotate(-90)">34</text>
<text transform="translate(283.73 684.4) rotate(-90)">36</text>
<text transform="translate(296.18 684.4) rotate(-90)">38</text>
<text transform="translate(308.62 684.4) rotate(-90)">40</text>
<text transform="translate(321.07 684.4) rotate(-90)">42</text>
<text transform="translate(333.51 684.4) rotate(-90)">44</text>
<text transform="translate(345.96 684.4) rotate(-90)">46</text>
<text transform="translate(358.40 684.4) rotate(-90)">48</text>
<text transform="translate(370.85 684.4) rotate(-90)">50</text>
<text transform="translate(383.30 684.4) rotate(-90)">52</text>
<text transform="translate(395.74 684.4) rotate(-90)">54</text>
<text transform="translate(408.19 684.4) rotate(-90)">56</text>
<text transform="translate(420.63 684.4) rotate(-90)">58</text>
<text transform="translate(433.08 684.4) rotate(-90)">60</text>
<text transform="translate(445.52 684.4) rotate(-90)">62</text>
<text transform="translate(457.97 684.4) rotate(-90)">64</text>
<text transform="translate(470.41 684.4) rotate(-90)">66</text>
<text transform="translate(482.86 684.4) rotate(-90)">68</text>
<text transform="translate(495.31 684.4) rotate(-90)">70</text>
<text transform="translate(507.75 684.4) rotate(-90)">72</text>
<text transform="translate(520.20 684.4) rotate(-90)">74</text>
<text transform="translate(532.64 684.4) rotate(-90)">76</text>
<text transform="translate(545.09 684.4) rotate(-90)">78</text>
<text transform="translate(557.53 684.4) rotate(-90)">80</text>
<text transform="translate(569.98 684.4) rotate(-90)">82</text>
<text transform="translate(582.42 684.4) rotate(-90)">84</text>
<text transform="translate(594.87 684.4) rotate(-90)">86</text>
<text transform="translate(607.32 684.4) rotate(-90)">88</text>
<text transform="translate(619.76 684.4) rotate(-90)">90</text>
<text transform="translate(632.21 684.4) rotate(-90)">92</text>
<text transform="translate(644.65 684.4) rotate(-90)">94</text>
<text transform="translate(657.10 684.4) rotate(-90)">96</text>
<text transform="translate(669.54 684.4) rotate(-90)">98</text>
<text transform="translate(681.99 684.4) rotate(-90)">100</text>
</g>
<text font-family="'Liberation Sans', Arial, sans-serif" font-size="14" fill="#333" transform="translate(12.8 182.5) rotate(-90)">ln (q<tspan font-size="10" dy="3">x</tspan><tspan dy="-3">)</tspan></text>
<text font-family="'Liberation Sans', Arial, sans-serif" font-size="15" fill="#333" transform="translate(14.1 547.6) rotate(-90)">ln (q<tspan font-size="10.8" dy="3.2">x</tspan><tspan dy="-3.2">)</tspan></text>
<path d="M300 25 H316" stroke="#4499cb" stroke-width="3" stroke-linecap="round"/>
<path d="M389.6 25 H404.2" stroke="#5f5b5a" stroke-width="3" stroke-linecap="round"/>
<text font-family="'Liberation Sans', Arial, sans-serif" font-size="14" fill="#262626" x="318.7" y="28.9" textLength="39" lengthAdjust="spacingAndGlyphs">White</text>
<text font-family="'Liberation Sans', Arial, sans-serif" font-size="14" fill="#262626" x="407.8" y="28.9" textLength="33.3" lengthAdjust="spacingAndGlyphs">Black</text>
<path d="M299.5 392.1 H314.5" stroke="#4499cb" stroke-width="2" stroke-linecap="round"/>
<path d="M387.5 392.1 H402" stroke="#5f5b5a" stroke-width="2" stroke-linecap="round"/>
<text font-family="'Liberation Sans', Arial, sans-serif" font-size="14" fill="#262626" x="317.7" y="397.3" textLength="39" lengthAdjust="spacingAndGlyphs">White</text>
<text font-family="'Liberation Sans', Arial, sans-serif" font-size="14" fill="#262626" x="404.8" y="397.3" textLength="33.3" lengthAdjust="spacingAndGlyphs">Black</text>
<text font-family="'Liberation Sans', Arial, sans-serif" font-size="14.3" font-weight="bold" fill="#262626" x="236.5" y="122.8">1929-1931</text>
<text font-family="'Liberation Sans', Arial, sans-serif" font-size="14.3" font-weight="bold" fill="#262626" x="354.3" y="213.9">2015</text>
<text font-family="'Liberation Sans', Arial, sans-serif" font-size="14" font-weight="bold" fill="#262626" x="220.5" y="495.7">1929-1931</text>
<text font-family="'Liberation Sans', Arial, sans-serif" font-size="14" font-weight="bold" fill="#262626" x="365" y="569.9">2015</text>
<text font-family="'Liberation Sans', Arial, sans-serif" font-size="12.2" fill="#333" x="356.9" y="715">Age</text>
</svg>
</body></html>
